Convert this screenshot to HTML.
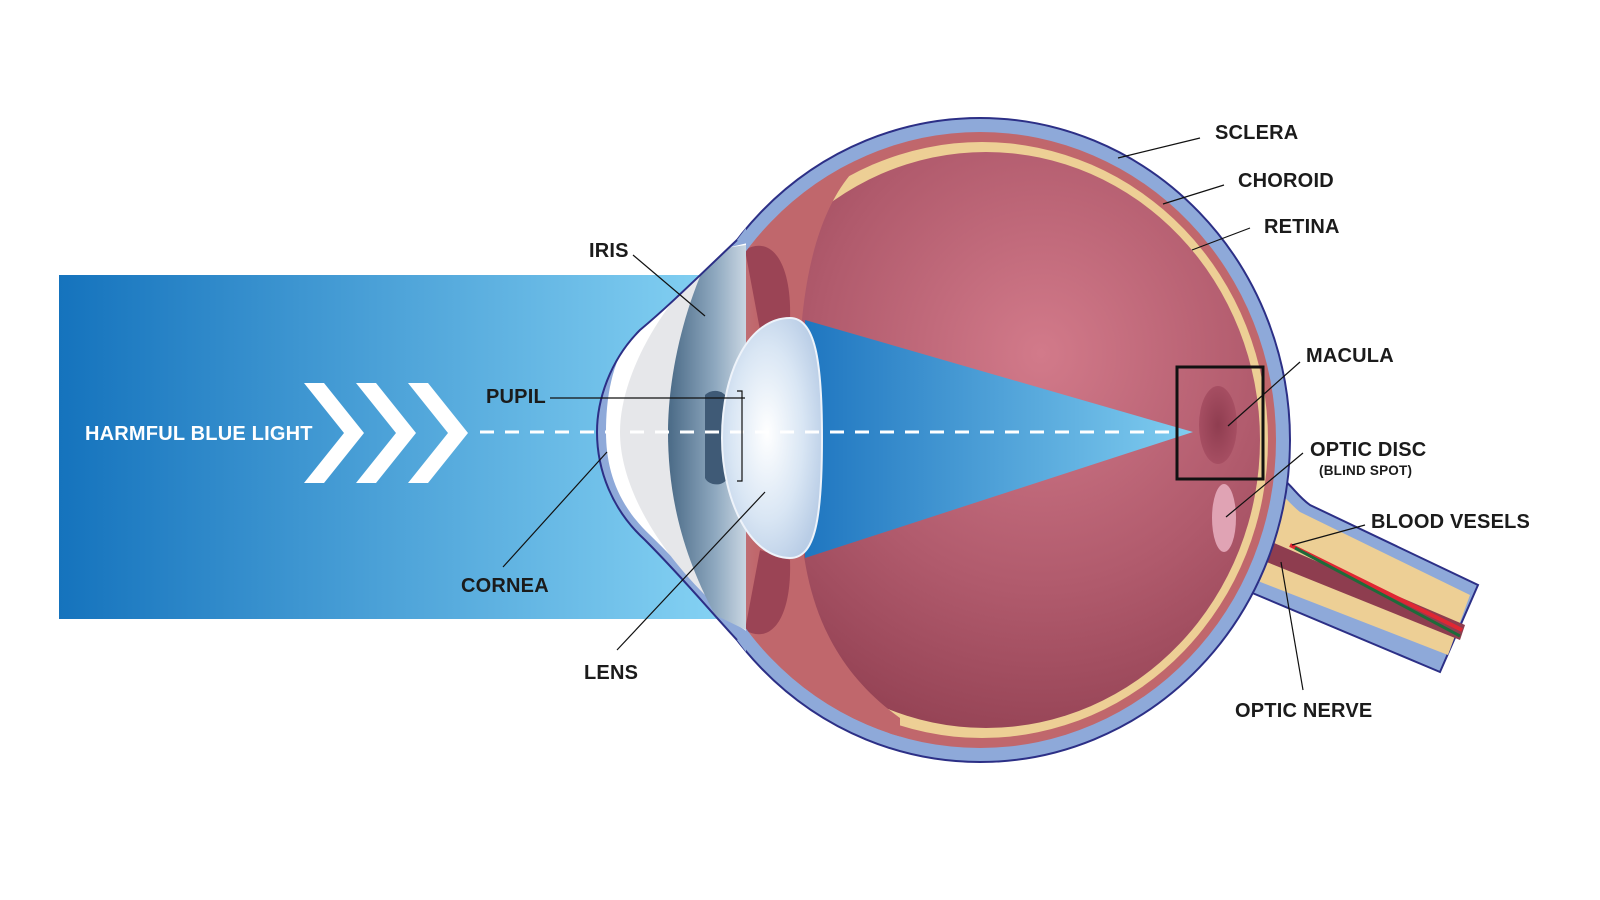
<!DOCTYPE html>
<html><head><meta charset="utf-8"><style>
html,body{margin:0;padding:0;background:#fff;}
svg{display:block;}
text{font-family:"Liberation Sans",sans-serif;font-weight:bold;fill:#1b1b1b;letter-spacing:0.2px;}
</style></head><body>
<svg width="1600" height="900" viewBox="0 0 1600 900" xmlns="http://www.w3.org/2000/svg">
<defs>
<linearGradient id="beam" x1="0" x2="1" y1="0" y2="0">
<stop offset="0" stop-color="#1573bd"/><stop offset="1" stop-color="#86d3f4"/></linearGradient>
<linearGradient id="cone" x1="0" x2="1"><stop offset="0" stop-color="#1f76c0"/><stop offset="1" stop-color="#80cdf0"/></linearGradient>
<radialGradient id="inner" cx="0.6" cy="0.35" r="0.75"><stop offset="0" stop-color="#d27a8a"/><stop offset="0.55" stop-color="#b05a6c"/><stop offset="1" stop-color="#8e3d4f"/></radialGradient>
<radialGradient id="lens" cx="0.45" cy="0.48" r="0.6"><stop offset="0" stop-color="#ffffff"/><stop offset="0.6" stop-color="#d9e6f4"/><stop offset="1" stop-color="#b9cde6"/></radialGradient>
<linearGradient id="iris" x1="0" x2="1"><stop offset="0" stop-color="#4a6a86"/><stop offset="0.6" stop-color="#8ea8bf"/><stop offset="1" stop-color="#c9d6e2"/></linearGradient>
<linearGradient id="cil" x1="0" x2="1"><stop offset="0" stop-color="#b7a8b0"/><stop offset="0.4" stop-color="#c0676c"/><stop offset="1" stop-color="#c0676c"/></linearGradient>
<radialGradient id="mac" cx="0.5" cy="0.5" r="0.5"><stop offset="0" stop-color="#8f3d50"/><stop offset="1" stop-color="#a64e62"/></radialGradient>
<clipPath id="chor"><ellipse cx="980" cy="440" rx="296" ry="308"/></clipPath>
<clipPath id="front"><path d="M737,240 C700,275 670,305 640,330 C610,360 597,400 597,432 C597,470 612,510 645,540 C680,575 705,605 737,640 L746,652 L746,228 Z"/></clipPath>
</defs>

<rect x="59" y="275" width="670" height="344" fill="url(#beam)"/>

<!-- optic nerve -->
<path d="M1265,470 C1290,478 1292,492 1310,505 L1478,585 L1440,672 L1250,592 C1238,588 1228,600 1220,605 Z" fill="#8ea9d9" stroke="#2c2f86" stroke-width="2"/>
<path d="M1255,478 C1280,488 1285,500 1300,512 L1470,595 L1448,655 L1250,578 C1240,575 1232,585 1222,592 Z" fill="#edcf95"/>
<path d="M1232,525 L1465,625 L1460,640 L1232,548 Z" fill="#8e3d4f"/>
<path d="M1290,545 L1462,630" stroke="#e02633" stroke-width="4"/>
<path d="M1295,548 L1460,636" stroke="#1e6b3a" stroke-width="3"/>

<!-- eyeball layers -->
<ellipse cx="980" cy="440" rx="310" ry="322" fill="#8ea9d9" stroke="#2c2f86" stroke-width="2"/>
<ellipse cx="980" cy="440" rx="296" ry="308" fill="#c0676c"/>
<ellipse cx="982" cy="440" rx="286" ry="298" fill="#edcf95"/>
<ellipse cx="986" cy="440" rx="274" ry="288" fill="url(#inner)"/>
<g clip-path="url(#chor)">
<path d="M660,120 L850,120 L850,175 C805,230 795,330 800,440 C795,550 805,650 900,718 L900,770 L660,770 Z" fill="url(#cil)"/>
<path d="M745,250 C770,235 792,260 790,320 L760,330 Z" fill="#9b4455"/>
<path d="M745,630 C770,645 792,620 790,560 L760,550 Z" fill="#9b4455"/>
</g>

<polygon points="805,320 1193,432 805,558" fill="url(#cone)"/>

<g clip-path="url(#front)">
<rect x="590" y="200" width="160" height="480" fill="#8ea9d9"/>
<path d="M718,250 C688,280 662,304 632,335 C611,362 606,400 606,432 C606,470 618,505 650,535 C682,566 700,588 722,615 L760,640 L760,240 Z" fill="#ffffff"/>
<path d="M700,270 C655,315 620,380 620,432 C620,485 655,545 705,595 Z" fill="#e6e7ea"/>
<path d="M712,250 C682,310 668,380 668,432 C668,490 680,550 715,615 L746,630 L746,245 Z" fill="url(#iris)"/>
</g>
<path d="M737,240 C700,275 670,305 640,330 C610,360 597,400 597,432 C597,470 612,510 645,540 C680,575 705,605 737,640" fill="none" stroke="#2c2f86" stroke-width="2"/>
<path d="M705,395 C712,388 725,390 728,400 L728,478 C722,488 708,485 705,478 Z" fill="#3f5a76"/>
<path d="M790,318 C815,318 822,360 822,438 C822,520 815,558 790,558 C750,558 722,500 722,438 C722,370 750,318 790,318 Z" fill="url(#lens)" stroke="#eef3fa" stroke-width="2"/>

<line x1="480" y1="432" x2="1180" y2="432" stroke="#fff" stroke-width="3" stroke-dasharray="14,11"/>

<g fill="#fff">
<polygon points="304,383 324,383 364,433 324,483 304,483 344,433"/>
<polygon points="356,383 376,383 416,433 376,483 356,483 396,433"/>
<polygon points="408,383 428,383 468,433 428,483 408,483 448,433"/>
</g>
<text x="85" y="440" font-size="20" style="fill:#fff">HARMFUL BLUE LIGHT</text>

<ellipse cx="1218" cy="425" rx="19" ry="39" fill="url(#mac)"/>
<rect x="1177" y="367" width="86" height="112" fill="none" stroke="#111" stroke-width="3"/>
<ellipse cx="1224" cy="518" rx="12" ry="34" fill="#e0a3b4"/>

<g stroke="#111" stroke-width="1.2" fill="none">
<line x1="1200" y1="138" x2="1118" y2="158"/>
<line x1="1224" y1="185" x2="1163" y2="204"/>
<line x1="1250" y1="228" x2="1192" y2="250"/>
<line x1="1300" y1="362" x2="1228" y2="426"/>
<line x1="1303" y1="453" x2="1226" y2="517"/>
<line x1="1365" y1="525" x2="1292" y2="545"/>
<line x1="1281" y1="562" x2="1303" y2="690"/>
<line x1="633" y1="255" x2="705" y2="316"/>
<line x1="550" y1="398" x2="745" y2="398"/>
<polyline points="737,391 742,391 742,481 737,481"/>
<line x1="607" y1="452" x2="503" y2="567"/>
<line x1="765" y1="492" x2="617" y2="650"/>
</g>

<g font-size="20">
<text x="1215" y="139">SCLERA</text>
<text x="1238" y="187">CHOROID</text>
<text x="1264" y="233">RETINA</text>
<text x="1306" y="362">MACULA</text>
<text x="1310" y="456">OPTIC DISC</text>
<text x="1319" y="475" font-size="13.5">(BLIND SPOT)</text>
<text x="1371" y="528">BLOOD VESELS</text>
<text x="1235" y="717">OPTIC NERVE</text>
<text x="589" y="257">IRIS</text>
<text x="486" y="403">PUPIL</text>
<text x="461" y="592">CORNEA</text>
<text x="584" y="679">LENS</text>
</g>
</svg>
</body></html>
